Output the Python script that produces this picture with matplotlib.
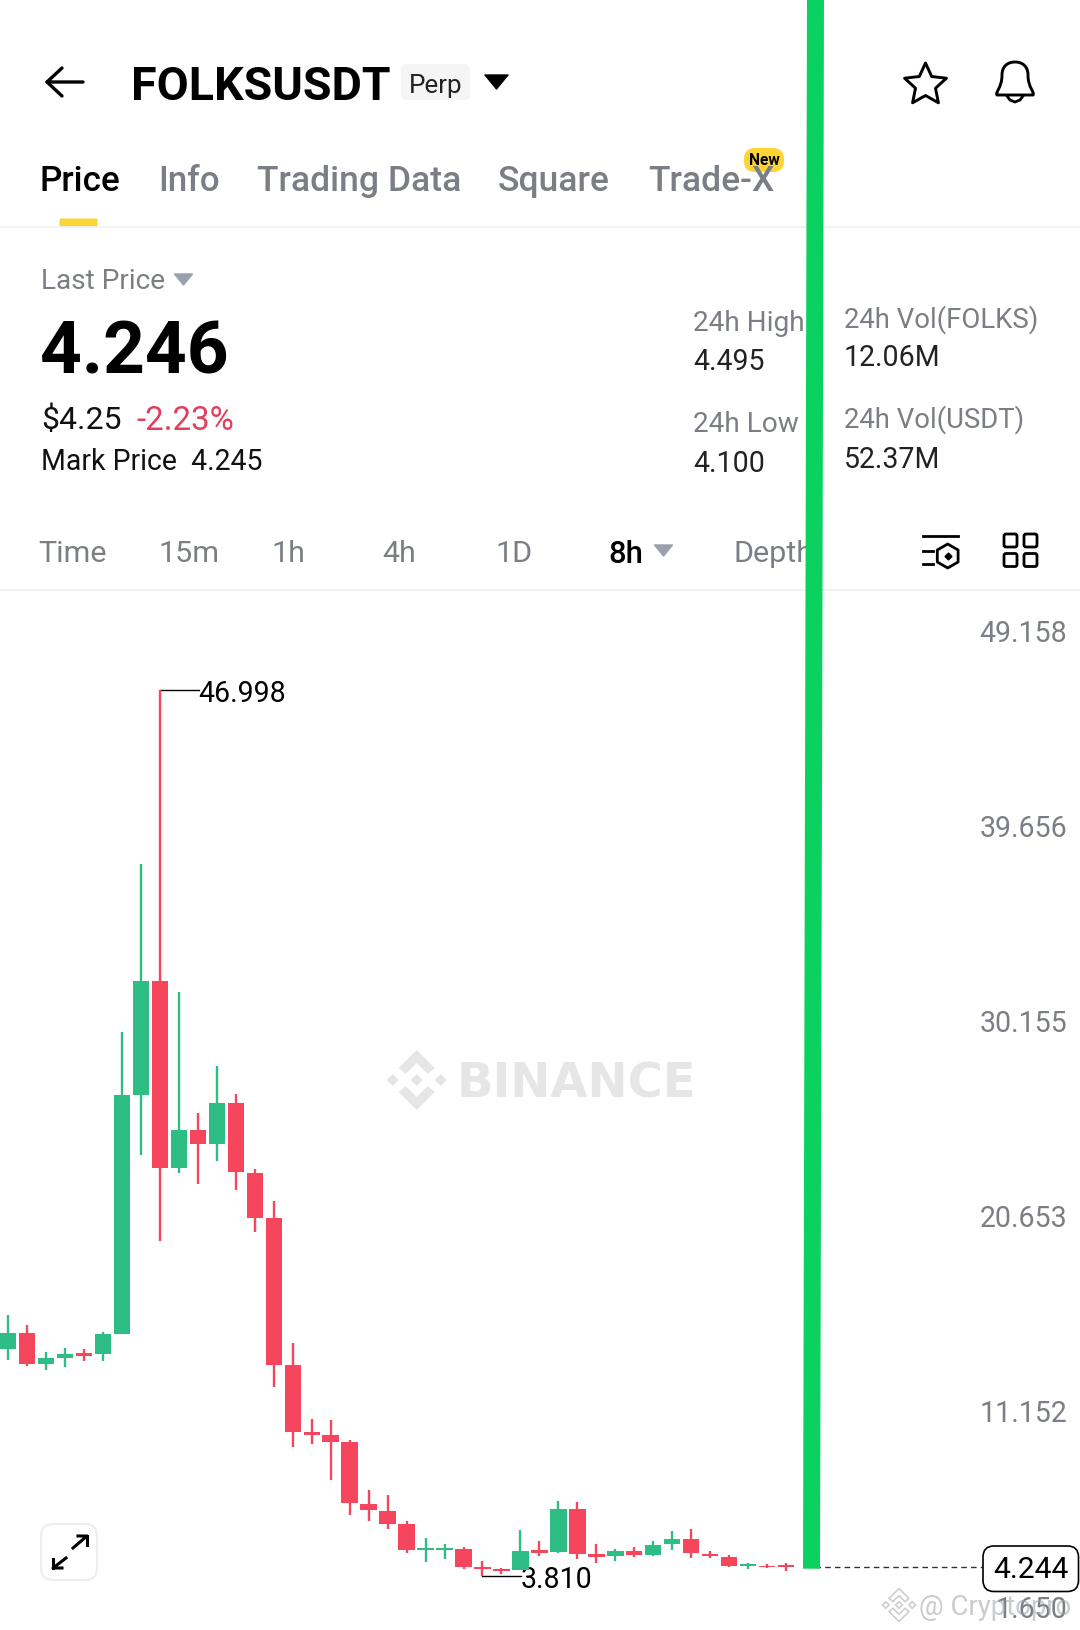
import numpy as np
import matplotlib
matplotlib.use('Agg')
import matplotlib.pyplot as plt
from matplotlib.patches import FancyBboxPatch, Polygon, PathPatch
from matplotlib.path import Path

plt.rcParams['font.family'] = ['Roboto', 'DejaVu Sans']

# candles
opens = [14.86, 15.67, 14.17, 14.46, 14.66, 14.64, 15.63, 27.23, 32.80, 23.67, 25.53, 24.84, 26.87, 23.46, 21.24,
         14.09, 10.82, 10.67, 10.33, 7.34, 7.01, 6.34, 5.07, 5.09, 5.15, 4.27, 4.18, 4.11, 5.07, 4.99, 7.10,
         4.88, 4.81, 5.05, 4.86, 5.38, 5.64, 4.90, 4.76, 4.29, 4.32, 4.34, 4.27]
highs = [16.55, 16.07, 14.71, 14.91, 14.89, 15.73, 30.31, 38.50, 46.998, 32.26, 26.39, 28.66, 27.30, 23.63, 22.07,
         15.15, 11.49, 11.43, 10.45, 8.02, 7.77, 6.51, 5.67, 5.38, 5.22, 4.54, 4.23, 6.06, 5.54, 7.47, 7.42,
         5.39, 5.13, 5.23, 5.52, 6.01, 6.09, 5.04, 4.83, 4.44, 4.40, 4.44, 4.30]
lows = [14.32, 14.07, 13.86, 13.99, 14.27, 14.30, 15.63, 24.34, 20.14, 23.46, 22.90, 24.05, 22.64, 20.59, 13.05,
        10.11, 10.23, 8.51, 6.81, 6.51, 6.09, 4.96, 4.50, 4.66, 4.15, 3.81, 3.93, 4.11, 4.80, 4.94, 4.66,
        4.45, 4.57, 4.73, 4.80, 5.10, 4.68, 4.71, 4.26, 4.15, 4.21, 4.05, 4.21]
closes = [15.67, 14.17, 14.44, 14.64, 14.54, 15.63, 27.24, 32.80, 23.67, 25.53, 24.84, 26.87, 23.48, 21.24, 14.09,
          10.82, 10.67, 10.35, 7.36, 7.03, 6.34, 5.07, 5.19, 5.19, 4.27, 4.15, 4.06, 5.05, 4.94, 7.08, 4.88,
          4.75, 5.04, 4.84, 5.34, 5.64, 4.92, 4.80, 4.29, 4.40, 4.26, 4.25, 4.244]
price_ticks = [49.158, 39.656, 30.155, 20.653, 11.152, 1.650]
price_tick_labels = ['49.158', '39.656', '30.155', '20.653', '11.152', '1.650']
last_price = 4.244

GREEN = '#2EBD85'
RED = '#F6465D'
GREY = '#7B7E84'
FONT = 100 / 72  # 1pt in px at dpi 100

W, H = 1080, 1630
fig = plt.figure(figsize=(W / 100, H / 100), dpi=100, facecolor='white')

# chart part, x = candle number, y = price
top_px = 591
ax = fig.add_axes([0, 0, 1, 1 - top_px / H])
ax.set_xlim(-0.42, 56.48)
ax.set_ylim(1.19, 51.80)
ax.axis('off')

x = np.arange(len(opens))
colors = [GREEN if c >= o else RED for o, c in zip(opens, closes)]
bottoms = [min(o, c) for o, c in zip(opens, closes)]
heights = [abs(o - c) for o, c in zip(opens, closes)]
ax.vlines(x, lows, highs, colors=colors, lw=1.7, zorder=3)
ax.bar(x, heights, bottom=bottoms, width=0.86, color=colors, zorder=4)

# price labels sit a little above their level
for value, lab in zip(price_ticks, price_tick_labels):
    ax.annotate(lab, xy=(1, value), xycoords=ax.get_yaxis_transform(), xytext=(-13, 11),
                textcoords='offset pixels', ha='right', va='center', fontsize=28.5 / FONT, color=GREY)

imax = int(np.argmax(highs))
imin = int(np.argmin(lows))
ax.plot([imax, imax + 2.05], [highs[imax], highs[imax]], color='black', lw=1)
ax.plot([imin, imin + 2.05], [lows[imin], lows[imin]], color='black', lw=1)
ax.annotate('46.998', xy=(imax, highs[imax]), xytext=(38, -4), textcoords='offset pixels', ha='left', va='center',
            fontsize=28.5 / FONT, color='black')
ax.annotate('3.810', xy=(imin, lows[imin]), xytext=(38, -4), textcoords='offset pixels', ha='left', va='center',
            fontsize=28.5 / FONT, color='black')
ax.plot([len(opens) - 0.5, 51.3], [last_price, last_price], color='#333333', lw=1, ls=(0, (4, 3)), zorder=2)

# app screen on top, pixel coordinates
ui = fig.add_axes([0, 0, 1, 1], zorder=5)
ui.set_xlim(0, W)
ui.set_ylim(H, 0)
ui.axis('off')
ui.patch.set_alpha(0)


def label(px, py, s, size, color='black', weight='normal', ha='left', zorder=6, family=None, alpha=None):
    ui.text(px, py + 1.5, s, fontsize=size / FONT, color=color, fontweight=weight, ha=ha, va='center', zorder=zorder,
            family=family, alpha=alpha)


def box(x0, y0, x1, y1, r, fc, ec='none', lw=0, zorder=5):
    ui.add_patch(FancyBboxPatch((x0 + r, y0 + r), x1 - x0 - 2 * r, y1 - y0 - 2 * r, boxstyle=f'round,pad={r}',
                                fc=fc, ec=ec, lw=lw, zorder=zorder))


def tri(cx, y0, w, h, color):
    ui.add_patch(Polygon([(cx - w / 2, y0), (cx + w / 2, y0), (cx, y0 + h)], fc=color, ec=color, lw=1, joinstyle='round'))


def logo(cx, cy, s, fc, ec='none', lw=0, zorder=1):
    # binance mark: two chevrons and three small diamonds
    chevron = np.array([(0, -30), (18, -12), (11, -6), (0, -17), (-11, -6), (-18, -12)], dtype=float)
    diamond = np.array([(0, -6), (6, 0), (0, 6), (-6, 0)], dtype=float)
    shapes = [chevron, chevron * [1, -1], diamond, diamond + [24, 0], diamond + [-24, 0]]
    for pts in shapes:
        ui.add_patch(Polygon(pts * s + [cx, cy], fc=fc, ec=ec, lw=lw, zorder=zorder))


# header
ui.plot([83, 47, 62], [82, 82, 68], color='black', lw=2.4, solid_capstyle='round', solid_joinstyle='round')
ui.plot([47, 62], [82, 96], color='black', lw=2.4, solid_capstyle='round')
label(131, 85, 'FOLKSUSDT', 46.5, weight='bold')
box(401, 64, 470, 100, 6, '#F5F5F5')
label(435.5, 84, 'Perp', 26, color='#222222', ha='center')
tri(496.5, 75, 23, 14, 'black')

ang = np.pi / 2 + np.arange(10) * np.pi / 5
rad = np.where(np.arange(10) % 2 == 0, 22, 10.5)
ui.add_patch(Polygon(np.c_[925.5 + rad * np.cos(ang), 85 - rad * np.sin(ang)], fc='none', ec='black', lw=2.1, joinstyle='round'))

bell = Path([(997, 95), (995, 92), (1002, 88), (1002, 75), (1002, 66), (1008, 62), (1015, 62), (1022, 62), (1028, 66),
             (1028, 75), (1028, 88), (1035, 92), (1033, 95), (997, 95)],
            [Path.MOVETO] + [Path.CURVE4] * 12 + [Path.CLOSEPOLY])
ui.add_patch(PathPatch(bell, fc='none', ec='black', lw=2.1, joinstyle='round'))
ui.plot([1007, 1010, 1015, 1020, 1023], [96, 100, 102, 100, 96], color='black', lw=2)

# tabs
label(39, 180, 'Price', 35, weight='medium')
label(158, 180, 'Info', 35, color=GREY, weight='medium')
label(257, 180, 'Trading Data', 35.5, color=GREY, weight='medium')
label(498, 180, 'Square', 35.5, color=GREY, weight='medium')
label(648, 180, 'Trade-X', 35.5, color=GREY, weight='medium')
box(744, 148, 784, 172, 11, '#FCD535')
label(764, 159, 'New', 15.5, weight='bold', ha='center')
ui.add_patch(FancyBboxPatch((61, 220), 35, 5, boxstyle='round,pad=1.5', fc='#FCD535', ec='none'))
ui.plot([0, W], [227, 227], color='#EEF0F2', lw=1.2, zorder=1)

# price block
label(41, 280, 'Last Price', 28, color=GREY)
tri(183.5, 274, 18, 11, '#9AA1AB')
label(40, 352, '4.246', 73, weight='bold')
label(41, 419, '$4.25', 32, color='#111111')
label(136, 419, '-2.23%', 33, color='#E0405E')
label(41, 461, 'Mark Price  4.245', 28.5, color='#111111')

label(693, 322, '24h High', 28, color=GREY)
label(693, 361, '4.495', 28.5, color='#222222')
label(693, 423, '24h Low', 28, color=GREY)
label(693, 462, '4.100', 28.5, color='#222222')
label(844, 318, '24h Vol(FOLKS)', 27.5, color=GREY)
label(844, 357, '12.06M', 28.5, color='#222222')
label(844, 418, '24h Vol(USDT)', 27.5, color=GREY)
label(844, 458, '52.37M', 28.5, color='#222222')

# interval row
for px, s in zip([38, 158, 271, 382, 495, 734], ['Time', '15m', '1h', '4h', '1D', 'Depth']):
    label(px, 553, s, 30.5, color=GREY)
label(608, 553, '8h', 31, color='black', weight='medium')
tri(663.5, 545, 18, 11, '#9AA1AB')
ui.plot([0, W], [590, 590], color='#EEF0F2', lw=1.2, zorder=1)

# right icons
ui.plot([923, 958], [536, 536], color='black', lw=2)
ui.plot([923, 933], [551, 551], color='black', lw=2)
ui.plot([923, 933], [564, 564], color='black', lw=2)
ang = np.pi / 2 + np.arange(6) * np.pi / 3
ui.add_patch(Polygon(np.c_[947.7 + 12 * np.cos(ang), 556 - 12 * np.sin(ang)], fc='none', ec='black', lw=2, joinstyle='round'))
ui.plot([947.7], [556], marker='D', ms=3.5, color='black')
for bx in [1004, 1024]:
    for by in [534, 553.5]:
        box(bx, by, bx + 13, by + 13, 2, 'none', ec='black', lw=2)

# watermark in the middle of the chart
logo(416.7, 1080, 1, '#E6E6E6')
label(457, 1083, 'BINANCE', 48, color='#E6E6E6', weight='bold', zorder=1, family='DejaVu Sans')

# expand button
box(41, 1524, 97, 1580, 12, 'white', ec='#EEEEEE', lw=1.5)
ui.plot([73, 87, 78], [1548, 1536, 1536], color='black', lw=2.2, zorder=6)
ui.plot([87, 87], [1536, 1545], color='black', lw=2.2, zorder=6)
ui.plot([66, 53, 62], [1558, 1568, 1568], color='black', lw=2.2, zorder=6)
ui.plot([53, 53], [1568, 1559], color='black', lw=2.2, zorder=6)

# last price tag
box(983, 1546, 1078.5, 1591.5, 11, 'white', ec='black', lw=1.2)
label(1031, 1569, '4.244', 30, ha='center')

# credit at the bottom, see-through so the axis label shows under it
logo(899, 1605, 0.55, 'none', ec='#CDCFD2', lw=1.2, zorder=2)
label(919, 1606, '@ Cryptopro', 27.5, color='#9EA1A6', zorder=2, alpha=0.55)

# hand drawn green stroke over everything
ui.plot([815.5, 811.5], [0, 1568.7], color='#0BD160', lw=17 / FONT, solid_capstyle='butt', zorder=7)

fig.savefig('out.png', dpi=100)
